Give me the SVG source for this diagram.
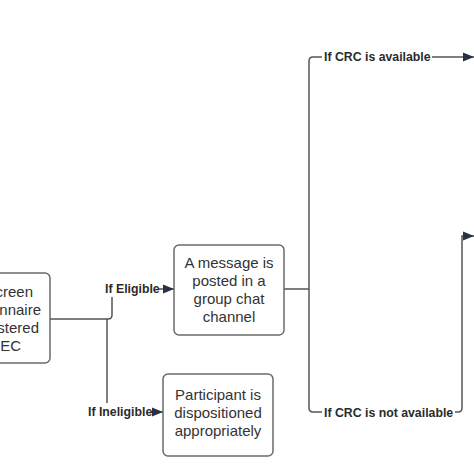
<svg xmlns="http://www.w3.org/2000/svg" width="474" height="474" viewBox="0 0 474 474">
<style>
.box{fill:#fff;stroke:#6b6b6b;stroke-width:1.5}
.t{font-family:"Liberation Sans",Arial,sans-serif;font-size:15px;fill:#333;text-anchor:middle}
.te{font-family:"Liberation Sans",Arial,sans-serif;font-size:15px;fill:#333;text-anchor:end}
.lbl{font-family:"Liberation Sans",Arial,sans-serif;font-size:12.3px;font-weight:bold;fill:#2b2b2b}
.ln{fill:none;stroke:#555;stroke-width:1.5}
</style>
<defs>
<marker id="ah" viewBox="0 0 10 10" refX="10" refY="5" markerWidth="11" markerHeight="11" markerUnits="userSpaceOnUse" orient="auto">
<path d="M0,1 L10,5 L0,9 Z" fill="#2a3142"/>
</marker>
</defs>
<rect width="474" height="474" fill="#fff"/>
<g id="connectors">
<path class="ln" d="M50,319 H108 Q112,319 112,315 V297"/>
<path class="ln" d="M159,289 H174" marker-end="url(#ah)"/>
<path class="ln" d="M107,319 V403"/>
<path class="ln" d="M151,412 H163" marker-end="url(#ah)"/>
<path class="ln" d="M284,289 H309"/>
<path class="ln" d="M322,57 H313 Q309,57 309,61 V408 Q309,412 313,412 H322"/>
<path class="ln" d="M432,57 H474" marker-end="url(#ah)"/>
<path class="ln" d="M455,412 H458 Q462,412 462,408 V236 H474" marker-end="url(#ah)"/>
<text class="lbl" x="105" y="293">If Eligible</text>
<text class="lbl" x="88" y="416">If Ineligible</text>
<text class="lbl" x="324" y="61">If CRC is available</text>
<text class="lbl" x="324" y="417">If CRC is not available</text>
</g>
<g id="node-screen">
<rect class="box" x="-60" y="273" width="110" height="90" rx="5"/>
<text class="te" x="33" y="297">creen</text>
<text class="te" x="41" y="315">onnaire</text>
<text class="te" x="39" y="333">stered</text>
<text class="te" x="21" y="351">EC</text>
</g>
<g id="node-message">
<rect class="box" x="174" y="245" width="110" height="90" rx="5"/>
<text class="t" x="229" y="268">A message is</text>
<text class="t" x="229" y="286">posted in a</text>
<text class="t" x="229" y="304">group chat</text>
<text class="t" x="229" y="322">channel</text>
</g>
<g id="node-participant">
<rect class="box" x="163" y="374" width="110" height="82" rx="5"/>
<text class="t" x="218" y="400">Participant is</text>
<text class="t" x="218" y="418">dispositioned</text>
<text class="t" x="218" y="436">appropriately</text>
</g>
</svg>
